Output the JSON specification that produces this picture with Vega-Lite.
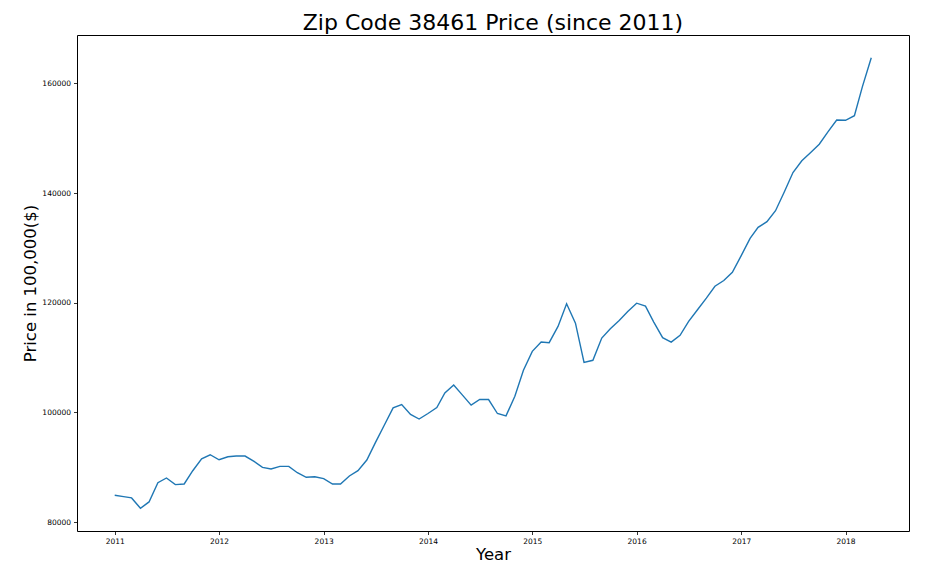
{
  "$schema": "https://vega.github.io/schema/vega-lite/v6.json",
  "width": 832,
  "height": 496,
  "autosize": {"type": "none"},
  "padding": {"left": 77, "top": 35, "right": 26, "bottom": 54},
  "background": "white",
  "config": {
    "font": "DejaVu Sans",
    "view": {"stroke": "#000000", "strokeWidth": 1},
    "axis": {"grid": false, "domain": false, "tickColor": "#000000", "tickSize": 3.5, "tickWidth": 0.8, "labelColor": "#000000", "labelFontSize": 7.5, "labelFont": "DejaVu Sans", "titleFont": "DejaVu Sans", "titleFontWeight": "normal", "titleColor": "#000000", "titleFontSize": 16.5}
  },
  "title": {"text": "Zip Code 38461 Price (since 2011)", "fontSize": 22, "font": "DejaVu Sans", "fontWeight": "normal", "color": "#000000", "anchor": "middle", "offset": 0},
  "data": {"values": [
    {"date": "2011-01-01", "price": 84900},
    {"date": "2011-02-01", "price": 84650},
    {"date": "2011-03-01", "price": 84420},
    {"date": "2011-04-01", "price": 82545},
    {"date": "2011-05-01", "price": 83690},
    {"date": "2011-06-01", "price": 87200},
    {"date": "2011-07-01", "price": 88050},
    {"date": "2011-08-01", "price": 86840},
    {"date": "2011-09-01", "price": 86960},
    {"date": "2011-10-01", "price": 89380},
    {"date": "2011-11-01", "price": 91560},
    {"date": "2011-12-01", "price": 92290},
    {"date": "2012-01-01", "price": 91380},
    {"date": "2012-02-01", "price": 91930},
    {"date": "2012-03-01", "price": 92050},
    {"date": "2012-04-01", "price": 92050},
    {"date": "2012-05-01", "price": 91140},
    {"date": "2012-06-01", "price": 90000},
    {"date": "2012-07-01", "price": 89690},
    {"date": "2012-08-01", "price": 90180},
    {"date": "2012-09-01", "price": 90180},
    {"date": "2012-10-01", "price": 89020},
    {"date": "2012-11-01", "price": 88180},
    {"date": "2012-12-01", "price": 88290},
    {"date": "2013-01-01", "price": 87930},
    {"date": "2013-02-01", "price": 86960},
    {"date": "2013-03-01", "price": 86960},
    {"date": "2013-04-01", "price": 88420},
    {"date": "2013-05-01", "price": 89380},
    {"date": "2013-06-01", "price": 91330},
    {"date": "2013-07-01", "price": 94490},
    {"date": "2013-08-01", "price": 97670},
    {"date": "2013-09-01", "price": 100830},
    {"date": "2013-10-01", "price": 101450},
    {"date": "2013-11-01", "price": 99630},
    {"date": "2013-12-01", "price": 98800},
    {"date": "2014-01-01", "price": 99810},
    {"date": "2014-02-01", "price": 100900},
    {"date": "2014-03-01", "price": 103560},
    {"date": "2014-04-01", "price": 105020},
    {"date": "2014-05-01", "price": 103200},
    {"date": "2014-06-01", "price": 101330},
    {"date": "2014-07-01", "price": 102360},
    {"date": "2014-08-01", "price": 102360},
    {"date": "2014-09-01", "price": 99810},
    {"date": "2014-10-01", "price": 99380},
    {"date": "2014-11-01", "price": 102960},
    {"date": "2014-12-01", "price": 107690},
    {"date": "2015-01-01", "price": 111140},
    {"date": "2015-02-01", "price": 112830},
    {"date": "2015-03-01", "price": 112720},
    {"date": "2015-04-01", "price": 115690},
    {"date": "2015-05-01", "price": 119810},
    {"date": "2015-06-01", "price": 116290},
    {"date": "2015-07-01", "price": 109140},
    {"date": "2015-08-01", "price": 109510},
    {"date": "2015-09-01", "price": 113560},
    {"date": "2015-10-01", "price": 115270},
    {"date": "2015-11-01", "price": 116780},
    {"date": "2015-12-01", "price": 118410},
    {"date": "2016-01-01", "price": 119920},
    {"date": "2016-02-01", "price": 119380},
    {"date": "2016-03-01", "price": 116470},
    {"date": "2016-04-01", "price": 113630},
    {"date": "2016-05-01", "price": 112830},
    {"date": "2016-06-01", "price": 114050},
    {"date": "2016-07-01", "price": 116600},
    {"date": "2016-08-01", "price": 118720},
    {"date": "2016-09-01", "price": 120830},
    {"date": "2016-10-01", "price": 123010},
    {"date": "2016-11-01", "price": 124050},
    {"date": "2016-12-01", "price": 125560},
    {"date": "2017-01-01", "price": 128600},
    {"date": "2017-02-01", "price": 131740},
    {"date": "2017-03-01", "price": 133740},
    {"date": "2017-04-01", "price": 134780},
    {"date": "2017-05-01", "price": 136780},
    {"date": "2017-06-01", "price": 140230},
    {"date": "2017-07-01", "price": 143740},
    {"date": "2017-08-01", "price": 145870},
    {"date": "2017-09-01", "price": 147380},
    {"date": "2017-10-01", "price": 148900},
    {"date": "2017-11-01", "price": 151190},
    {"date": "2017-12-01", "price": 153320},
    {"date": "2018-01-01", "price": 153260},
    {"date": "2018-02-01", "price": 154100},
    {"date": "2018-03-01", "price": 159400},
    {"date": "2018-04-01", "price": 164650}
  ]},
  "mark": {"type": "line", "color": "#1f77b4", "strokeWidth": 1.4},
  "encoding": {
    "x": {
      "field": "date", "type": "temporal", "title": "Year",
      "scale": {"type": "utc", "domain": [{"year": 2010, "month": 8, "date": 22, "utc": true}, {"year": 2018, "month": 8, "date": 11, "utc": true}], "nice": false},
      "axis": {"values": [{"year": 2011, "utc": true}, {"year": 2012, "utc": true}, {"year": 2013, "utc": true}, {"year": 2014, "utc": true}, {"year": 2015, "utc": true}, {"year": 2016, "utc": true}, {"year": 2017, "utc": true}, {"year": 2018, "utc": true}], "format": "%Y", "labelPadding": 3, "labelFlush": false, "titlePadding": 1}
    },
    "y": {
      "field": "price", "type": "quantitative", "title": "Price in 100,000($)",
      "scale": {"domain": [78390, 168810], "nice": false, "zero": false},
      "axis": {"values": [80000, 100000, 120000, 140000, 160000], "format": "d", "labelPadding": 3, "titlePadding": 3}
    }
  }
}
